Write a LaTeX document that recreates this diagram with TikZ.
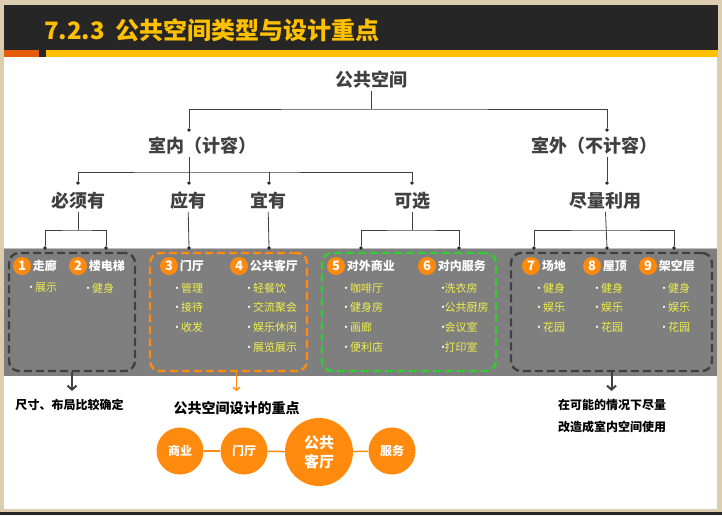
\documentclass[tikz,border=0pt]{standalone}
\usepackage{fontspec}
\setmainfont{Noto Sans CJK SC}
\usepackage{xcolor}
\usetikzlibrary{positioning,arrows.meta}

\definecolor{hdark}{HTML}{262626}
\definecolor{amber}{HTML}{FFC000}
\definecolor{redorange}{HTML}{E65C0A}
\definecolor{tangerine}{HTML}{FF8A0D}
\definecolor{beige}{HTML}{DCCDB0}
\definecolor{band}{HTML}{7F7F7F}
\definecolor{txtgray}{HTML}{404040}
\definecolor{lime}{HTML}{33CC33}
\definecolor{itemyel}{HTML}{F0F04A}

% list bullet, the CJK middle dot is a full-width glyph
\newcommand{\itdot}{\kern-4.5pt{\color{white!85!itemyel}·}\kern-1.5pt}
\newcommand{\itdottight}{\kern-4.5pt{\color{white!85!itemyel}·}\kern-4pt}

\begin{document}
\begin{tikzpicture}[
        x=1pt, y=-1pt,
        head/.style={font=\bfseries\fontsize{18}{20}\selectfont, text=txtgray, inner sep=2pt},
        tree/.style={draw=txtgray, line width=0.8pt},
        jdot/.style={circle, fill=black!85, inner sep=0pt, minimum size=3.6pt},
        dbox/.style={draw, dash pattern=on 8pt off 4pt, line width=2.4pt, rounded corners=10pt,
                     inner sep=0pt, minimum height=118pt},
        badge/.style={circle, fill=tangerine, text=white, inner sep=0pt, minimum size=18pt,
                      font=\bfseries\fontsize{13}{14}\selectfont},
        cat/.style={text=white, inner sep=0pt, font=\bfseries\fontsize{12}{14}\selectfont},
        item/.style={anchor=west, text=itemyel, inner sep=0pt, font=\fontsize{11}{13}\selectfont},
        note/.style={text=black, inner sep=2pt, align=center, font=\bfseries\fontsize{12}{22}\selectfont},
        darr/.style={draw=txtgray, line width=2pt, -{Straight Barb[length=4pt,width=9pt]}},
        oarr/.style={draw=tangerine, line width=1.3pt, -{Straight Barb[length=3pt,width=7pt]}},
        focus/.style={circle, fill=tangerine, text=white, inner sep=0pt, minimum size=47pt,
                      align=center, font=\bfseries\fontsize{12}{14}\selectfont},
        oline/.style={draw=tangerine, line width=1.5pt},
    ]
    \useasboundingbox (0,0) rectangle (722,515);

    % frame and header
    \fill[beige] (0,0) rectangle (722,515);
    \fill[white] (4,5) rectangle (717,509);
    \fill[black!85] (0,512) rectangle (722,515);
    \fill[hdark] (4,5) rectangle (718,50);
    \fill[redorange] (4,50) rectangle (39,57);
    \fill[hdark] (39,50) rectangle (46,57);
    \fill[amber] (46,50) rectangle (718,57);
    \node[anchor=west, inner sep=0pt, text=amber, font=\bfseries\fontsize{24}{28}\selectfont]
        (title) at (44,30) {7.2.3\hspace{0.45em}公共空间类型与设计重点};

    % grey band
    \fill[band] (4,248) rectangle (717,376);
    \draw[black!25, line width=1pt] (4,248) -- (717,248);

    % tree
    \node[head] (root) at (371,80) {公共空间};
    \node[head] (inner) at (202,146) {室内（计容）};
    \node[head] (outer) at (594,146) {室外（不计容）};
    \node[head] (must) at (78,201) {必须有};
    \node[head] (should) at (188,201) {应有};
    \node[head] (may) at (268,201) {宜有};
    \node[head] (opt) at (412,201) {可选};
    \node[head] (use) at (605,201) {尽量利用};

    \node[jdot] (p-in) at (189,130) {};
    \node[jdot] (p-out) at (607,130) {};
    \node[jdot] (p-must) at (78,183) {};
    \node[jdot] (p-should) at (189,183) {};
    \node[jdot] (p-may) at (269,183) {};
    \node[jdot] (p-opt) at (412,183) {};
    \node[jdot] (p-use) at (607,183) {};
    \node[jdot] (q1) at (45,248) {};
    \node[jdot] (q2) at (106,248) {};
    \node[jdot] (q3) at (189,248) {};
    \node[jdot] (q4) at (269,248) {};
    \node[jdot] (q5) at (361,248) {};
    \node[jdot] (q6) at (459,248) {};
    \node[jdot] (q7) at (534,248) {};
    \node[jdot] (q8) at (607,248) {};
    \node[jdot] (q9) at (674,248) {};

    \coordinate (j-root) at (371,109);
    \coordinate (j-in) at (189,172);
    \coordinate (j-must) at (78,230);
    \coordinate (j-opt) at (412,230);
    \coordinate (j-use) at (607,230);

    \draw[tree] (root) -- (j-root);
    \draw[tree] (p-in) |- (j-root) -| (p-out);
    \draw[tree] (j-in |- inner.south) -- (j-in);
    \draw[tree] (p-must) |- (j-in) -| (p-opt);
    \draw[tree] (p-should) -- (j-in);
    \draw[tree] (p-may) -- (p-may |- j-in);
    \draw[tree] (p-out |- outer.south) -- (p-use);
    \draw[tree] (must) -- (j-must);
    \draw[tree] (q1) |- (j-must) -| (q2);
    \draw[tree] (should) -- (q3);
    \draw[tree] (may) -- (q4);
    \draw[tree] (opt) -- (j-opt);
    \draw[tree] (q5) |- (j-opt) -| (q6);
    \draw[tree] (use) -- (q8);
    \draw[tree] (q7) |- (j-use) -| (q9);

    % dashed groups
    \node[dbox, draw=txtgray, minimum width=126pt] (grpA) at (72,312) {};
    \node[dbox, draw=tangerine, minimum width=157pt] (grpB) at (228.5,312) {};
    \node[dbox, draw=lime, minimum width=174pt] (grpC) at (409,312) {};
    \node[dbox, draw=txtgray, minimum width=201pt] (grpD) at (611.5,312) {};

    \foreach \n/\x/\t in {1/22/走廊, 2/78/楼电梯, 3/169/门厅, 4/239/公共客厅, 5/336/对外商业,
                         6/427/对内服务, 7/531/场地, 8/592/屋顶, 9/648/架空层} {
        \node[badge] (b\n) at (\x,266) {\n};
        \node[cat, right=1.5pt of b\n] (t\n) {\t};
    }

    \node[item] (i1-1) at (30,288) {\itdot 展示};
    \node[item] (i2-1) at (87,288) {\itdot 健身};
    \foreach \t [count=\i] in {管理,接待,收发}
        \node[item] (i3-\i) at (176,{268.3+19.7*\i}) {\itdot\t};
    \foreach \t [count=\i] in {轻餐饮,交流聚会,娱乐休闲,展览展示}
        \node[item] (i4-\i) at (248,{268.3+19.7*\i}) {\itdot\t};
    \foreach \t [count=\i] in {咖啡厅,健身房,画廊,便利店}
        \node[item] (i5-\i) at (345,{268.3+19.7*\i}) {\itdot\t};
    \foreach \t [count=\i] in {洗衣房,公共厨房,会议室,打印室}
        \node[item] (i6-\i) at (442,{268.3+19.7*\i}) {\itdottight\t};
    \foreach \t [count=\i] in {健身,娱乐,花园} {
        \node[item] (i7-\i) at (538,{268.3+19.7*\i}) {\itdot\t};
        \node[item] (i8-\i) at (596,{268.3+19.7*\i}) {\itdot\t};
        \node[item] (i9-\i) at (663,{268.3+19.7*\i}) {\itdot\t};
    }

    % notes below the band
    \node[note] (note1) at (69.5,405) {尺寸、布局比较确定};
    \node[note, font=\bfseries\fontsize{14}{16}\selectfont] (note2) at (236.5,408) {公共空间设计的重点};
    \node[note] (note3) at (612,416) {在可能的情况下尽量\\改造成室内空间使用};

    \draw[darr, shorten >=6pt] (grpA.south) -- (grpA.south |- note1.north);
    \draw[oarr, shorten >=8pt] (grpB.south -| note2.north) -- (note2.north);
    \draw[darr, shorten >=6pt] (grpD.south) -- (grpD.south |- note3.north);

    \node[focus] (c-biz) at (180,451) {商业};
    \node[focus] (c-hall) at (244,451) {门厅};
    \node[focus, minimum size=68pt, font=\bfseries\fontsize{15}{19}\selectfont] (c-lounge) at (319,452) {公共\\客厅};
    \node[focus] (c-serv) at (392,451) {服务};
    \draw[oline] (c-biz) -- (c-hall);
    \draw[oline] (c-hall) -- (c-lounge);
    \draw[oline] (c-lounge) -- (c-serv);
\end{tikzpicture}
\end{document}
